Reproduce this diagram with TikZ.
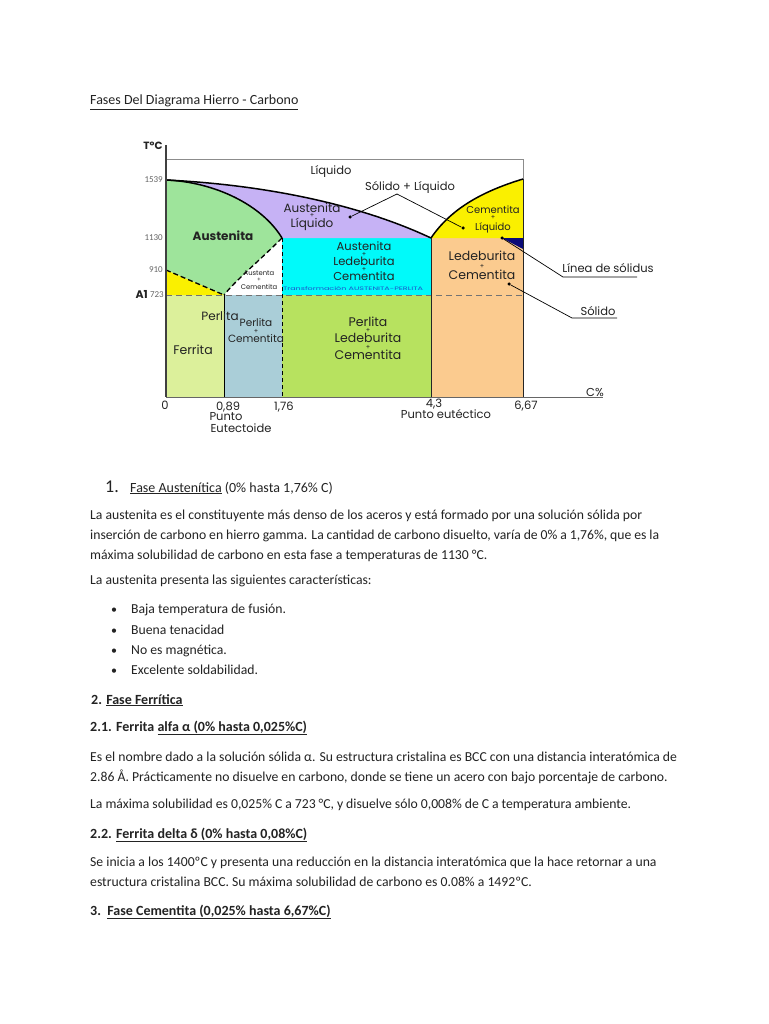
\documentclass[tikz,border=0pt]{standalone}
\usepackage{fontspec}
\usepackage{graphicx}
\setmainfont{Carlito}
\newfontfamily\dg{Poppins}
\newcommand\pl{{\fontsize{6.5}{6.5}\selectfont +}}
% three-line stack: #1 gap top->mid, #2 gap mid->bottom
\newcommand\stackthree[5]{\vbox{\baselineskip=0pt\lineskiplimit=-100pt\lineskip=0pt\halign{\hfil##\hfil\cr#3\cr\noalign{\vskip#1}#4\cr\noalign{\vskip#2}#5\cr}}}
\newcommand\stackfive[5]{\vbox{\baselineskip=0pt\lineskiplimit=-100pt\lineskip=0pt\halign{\hfil##\hfil\cr#3\cr\noalign{\vskip#1}\pl\cr\noalign{\vskip#2}#4\cr\noalign{\vskip#1}\pl\cr\noalign{\vskip#2}#5\cr}}}
\definecolor{cGreen}{RGB}{158,228,155}
\definecolor{cPurple}{RGB}{198,178,245}
\definecolor{cYellow}{RGB}{250,240,0}
\definecolor{cCyan}{RGB}{0,250,250}
\definecolor{cPeach}{RGB}{251,203,143}
\definecolor{cFerr}{RGB}{220,240,155}
\definecolor{cBlue}{RGB}{170,206,216}
\definecolor{cLime}{RGB}{183,226,95}
\definecolor{cNavy}{RGB}{10,10,120}
\definecolor{cText}{RGB}{35,35,35}
\definecolor{cTrans}{RGB}{30,80,200}
\tikzset{
  txt/.style={anchor=base west, inner sep=0pt, text=cText, font=\fontsize{13.7}{16}\selectfont},
  btxt/.style={txt, font=\fontsize{14}{16}\selectfont\bfseries},
  lab/.style={inner sep=0pt, text=cText, font=\dg\fontsize{11.5}{12}\selectfont},
  labb/.style={inner sep=0pt, text=cText, font=\dg\fontsize{12}{13}\selectfont},
  stk/.style={inner sep=0pt, text=cText},
  axnum/.style={inner sep=0pt, text=black!60, font=\fontsize{9}{10}\selectfont},
  tick/.style={inner sep=0pt, text=cText, font=\dg\fontsize{11.5}{12}\selectfont},
  curve/.style={line width=1.5pt, black},
  dashb/.style={line width=1.3pt, black, dash pattern=on 5pt off 3pt},
  dashg/.style={line width=0.7pt, black!55, dash pattern=on 6pt off 4pt},
  leader/.style={line width=0.7pt, black},
  dot/.style={circle, fill=black, inner sep=0pt, minimum size=3.5pt},
  bul/.style={anchor=base, inner sep=0pt, text=cText, font=\fontsize{12}{14}\selectfont}
}
\begin{document}
\begin{tikzpicture}[x=1pt,y=-1pt]
\useasboundingbox[fill=white] (0,0) rectangle (768,1024);
% ---------- fills ----------
\fill[cPeach] (431,238) rectangle (523,397);
\fill[cFerr] (166,295) rectangle (224,397);
\fill[cBlue] (224,295) rectangle (282,397);
\fill[cLime] (282,295) rectangle (431,397);
\fill[cCyan] (282,238) rectangle (431,295);
\fill[cPurple] (166,180) .. controls (250,184) and (350,200) .. (431,238) -- (282,238)
   .. controls (262,205) and (215,182) .. (166,180) -- cycle;
\fill[cGreen] (166,180) .. controls (215,182) and (262,205) .. (282,238)
   .. controls (258,262) and (236,280) .. (224,295) -- (166,270) -- cycle;
\fill[cYellow] (166,270) -- (224,295) -- (166,295) -- cycle;
\fill[cYellow] (431,238) .. controls (450,210) and (480,192) .. (523,179) -- (523,238) -- cycle;
\fill[cNavy] (502,238) -- (523,238) -- (523,249) -- cycle;
% ---------- lines ----------
\draw[black!45, line width=0.6pt] (166,159) -- (523,159) -- (523,179);
\draw[dashg] (166,295) -- (523,295);
\draw[curve] (166,180) .. controls (250,184) and (350,200) .. (431,238);
\draw[curve] (166,180) .. controls (215,182) and (262,205) .. (282,238);
\draw[curve] (431,238) .. controls (450,210) and (480,192) .. (523,179);
\draw[dashb] (282,238) .. controls (258,262) and (236,280) .. (224,295);
\draw[dashb] (166,270) -- (224,295);
\draw[line width=0.9pt, black] (224,295) -- (224,397);
\draw[line width=0.9pt, black, dash pattern=on 4pt off 3pt] (282,238) -- (282,397);
\draw[line width=0.9pt, black!85] (431,238) -- (431,397);
\draw[line width=1pt, black!85] (523,179) -- (523,397);
\draw[black!60, line width=0.9pt] (166,397) -- (603,397);
\draw[black!75, line width=1.6pt] (166,145) -- (166,397);
% ---------- axis labels ----------
\node[tick, font=\dg\fontsize{10.5}{11}\selectfont\bfseries] (tc) at (153,146) {T°C};
\node[axnum, anchor=east] (t1539) at (163,180) {1539};
\node[axnum, anchor=east] (t1130) at (163,238) {1130};
\node[axnum, anchor=east] (t910) at (163,270) {910};
\node[axnum, anchor=east] (t723) at (164,295) {723};
\node[tick, font=\dg\fontsize{11}{11}\selectfont\bfseries, anchor=east] (ta1) at (148,294) {A1};
\node[tick] (x0) at (165,405) {0};
\node[tick] (x089) at (228,407) {0,89};
\node[tick] (pto1) at (226,417) {Punto};
\node[tick] (eut1) at (241,428) {Eutectoide};
\node[tick] (x176) at (284,407) {1,76};
\node[tick] (x43) at (434,404) {4,3};
\node[tick] (pto2) at (446,414) {Punto eutéctico};
\node[tick] (x667) at (526,406) {6,67};
\node[tick] (cp) at (595,392) {C\%};
% ---------- region labels ----------
\node[lab] (liq) at (331,171) {Líquido};
\node[lab] (sl) at (410,187) {Sólido + Líquido};
\node[stk, font=\dg\fontsize{12}{12}\selectfont] (pal) at (312,217) {\stackthree{5.5pt}{10pt}{Austenita}{\pl}{Líquido}};
\node[lab, font=\dg\fontsize{12}{12}\selectfont\bfseries] (aus) at (223,236) {Austenita};
\node[stk, font=\dg\fontsize{6.8}{7}\selectfont] (acl) at (259,280) {\stackthree{6pt}{8pt}{Austenta}{{\fontsize{5.5}{5.5}\selectfont +}}{Cementita}};
\node[stk, font=\dg\fontsize{11.5}{12}\selectfont] (cyl) at (364,261) {\stackfive{6pt}{9pt}{Austenita}{Ledeburita}{Cementita}};
\node[inner sep=0pt, text=cTrans, font=\dg\fontsize{5}{5}\selectfont] (tr) at (353,289) {\scalebox{1.6}[1]{Transformación AUSTENITA-PERLITA}};
\node[stk, font=\dg\fontsize{10}{10}\selectfont] (yl) at (493,219) {\stackthree{6pt}{11pt}{Cementita}{\pl}{Líquido}};
\node[stk, font=\dg\fontsize{12.5}{12.5}\selectfont] (pkl) at (482,265) {\stackthree{8pt}{11pt}{Ledeburita}{\pl}{Cementita}};
\node[labb] (perl) at (220,316) {Perlita};
\node[labb, font=\dg\fontsize{12.5}{13}\selectfont] (ferr) at (193,350) {Ferrita};
\node[stk, font=\dg\fontsize{10.5}{10.5}\selectfont] (bl) at (256,331) {\stackthree{6.5pt}{9.5pt}{Perlita}{\pl}{Cementita}};
\node[stk, font=\dg\fontsize{12.5}{12.5}\selectfont] (gl) at (368,338) {\stackfive{6.5pt}{10pt}{Perlita}{Ledeburita}{Cementita}};
\node[lab] (lsol) at (608,268) {Línea de sólidus};
\node[lab] (sol) at (598,311) {Sólido};
% ---------- leaders ----------
\coordinate (slb) at (397,194);
\node[dot] (d1) at (350,217) {};
\node[dot] (d2) at (463,228) {};
\node[dot] (d3) at (502,238) {};
\node[dot] (d4) at (509,284) {};
\coordinate (u1a) at (563,277);
\coordinate (u1b) at (637,277);
\coordinate (u2a) at (572,318);
\coordinate (u2b) at (617,318);
\draw[leader] (d1) -- (slb) -- (d2);
\draw[leader] (d3) -- (u1a) -- (u1b);
\draw[leader] (d4) -- (u2a) -- (u2b);
% ---------- document text ----------
\node[txt, font=\fontsize{14}{16}\selectfont] (title) at (90,105) {\underline{Fases Del Diagrama Hierro - Carbono}};
\node[txt, font=\fontsize{18}{20}\selectfont] (h1n) at (105,492) {1.};
\node[txt, font=\fontsize{14}{16}\selectfont] (h1) at (130,492) {\underline{Fase Austenítica} (0\% hasta 1,76\% C)};
\node[txt] (l1) at (90,519) {\makebox[552pt][s]{La austenita es el constituyente más denso de los aceros y está formado por una solución sólida por}};
\node[txt] (l2) at (90,539) {\makebox[569pt][s]{inserción de carbono en hierro gamma. La cantidad de carbono disuelto, varía de 0\% a 1,76\%, que es la}};
\node[txt] (l3) at (90,559) {máxima solubilidad de carbono en esta fase a temperaturas de 1130 °C.};
\node[txt] (l4) at (90,584) {La austenita presenta las siguientes características:};
\node[bul] (bu1) at (114,613) {•};
\node[txt] (b1t) at (131,613) {Baja temperatura de fusión.};
\node[bul] (bu2) at (114,634) {•};
\node[txt] (b2t) at (131,634) {Buena tenacidad};
\node[bul] (bu3) at (114,654) {•};
\node[txt] (b3t) at (131,654) {No es magnética.};
\node[bul] (bu4) at (114,674) {•};
\node[txt] (b4t) at (131,674) {Excelente soldabilidad.};
\node[btxt] (h2) at (91,704) {2. \underline{Fase Ferrítica}};
\node[btxt] (h21) at (90,731) {2.1. Ferrita \underline{alfa α (0\% hasta 0,025\%C)}};
\node[txt] (l5) at (90,761) {Es el nombre dado a la solución sólida α. Su estructura cristalina es BCC con una distancia interatómica de};
\node[txt] (l6) at (90,781) {2.86 Å. Prácticamente no disuelve en carbono, donde se tiene un acero con bajo porcentaje de carbono.};
\node[txt] (l7) at (90,808) {\makebox[541pt][s]{La máxima solubilidad es 0,025\% C a 723 °C, y disuelve sólo 0,008\% de C a temperatura ambiente.}};
\node[btxt] (h22) at (90,838) {2.2. \underline{Ferrita delta δ (0\% hasta 0,08\%C)}};
\node[txt] (l8) at (90,866) {Se inicia a los 1400ºC y presenta una reducción en la distancia interatómica que la hace retornar a una};
\node[txt] (l9) at (90,886) {estructura cristalina BCC. Su máxima solubilidad de carbono es 0.08\% a 1492ºC.};
\node[btxt] (h3) at (90,915) {3.\ \ \underline{Fase Cementita (0,025\% hasta 6,67\%C)}};
\end{tikzpicture}
\end{document}
